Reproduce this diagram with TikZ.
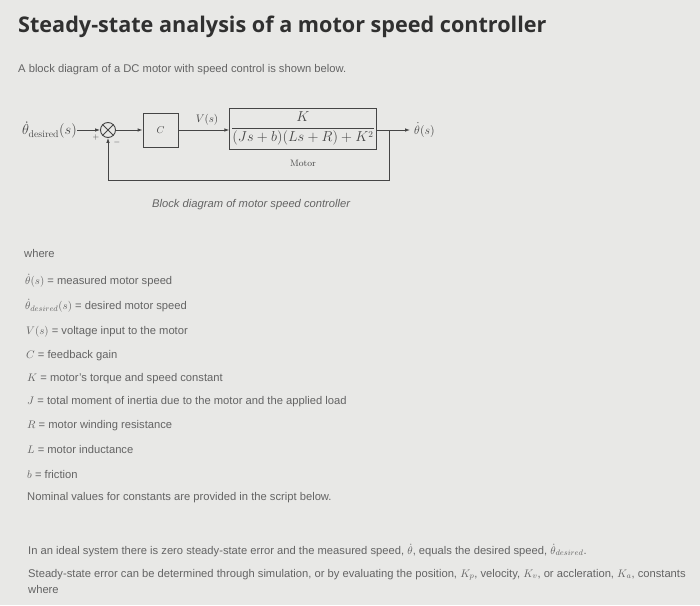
\documentclass[tikz,border=0pt]{standalone}
\usepackage{fontspec}
\setsansfont{Liberation Sans}
\newfontfamily\headfont{Open Sans}
\usepackage{amsmath}
\usetikzlibrary{arrows.meta}
\definecolor{pagebg}{HTML}{E8E8E6}
\definecolor{titleink}{HTML}{303030}
\definecolor{bodyink}{HTML}{646464}
\definecolor{wireink}{HTML}{454545}

\begin{document}
\begin{tikzpicture}[x=1pt, y=-1pt,
  txt/.style={anchor=base west, inner sep=0pt, text=bodyink, font=\sffamily\fontsize{11.2}{13}\selectfont},
  blk/.style={draw=wireink, line width=0.9pt, inner sep=0pt, text=wireink},
  sig/.style={draw=wireink, line width=0.9pt, -{Latex[length=5pt, width=3.6pt]}},
  lbl/.style={inner sep=0pt, text=wireink, font=\fontsize{13}{15}\selectfont}]
  % page
  \fill[pagebg] (0,0) rectangle (700,605);
  \useasboundingbox (0,0) rectangle (700,605);
  % heading
  \node[txt, text=titleink, font=\headfont\bfseries\fontsize{21.6}{25}\selectfont] (title) at (18,32) {Steady-state analysis of a motor speed controller};
  \node[txt] (intro) at (18,72) {A block diagram of a DC motor with speed control is shown below.};
  % block diagram
  \node[lbl, anchor=east, font=\fontsize{14}{16}\selectfont] (ref) at (77,130) {$\dot{\theta}_{\mathrm{desired}}(s)$};
  \node[blk, circle, minimum size=15pt] (sum) at (108,130) {};
  \draw[wireink, line width=0.9pt] (sum.north west) -- (sum.south east) (sum.north east) -- (sum.south west);
  \node[lbl, font=\fontsize{8}{9}\selectfont] (plus) at (96,137) {$+$};
  \node[lbl, font=\fontsize{8}{9}\selectfont] (minus) at (117,142) {$-$};
  \node[blk, minimum width=35pt, minimum height=34pt, font=\fontsize{10}{12}\selectfont] (ctrl) at (160.5,130) {$C$};
  \node[blk, minimum width=145pt, minimum height=41pt, inner xsep=1.5pt, font=\fontsize{13.3}{16}\selectfont] (motor) at (303,128.5) {$\dfrac{K}{(Js+b)(Ls+R)+K^2}$};
  \node[lbl, font=\fontsize{9.3}{11}\selectfont] (motorname) at (303,163) {Motor};
  \node[lbl, font=\fontsize{11}{13}\selectfont] (volt) at (207,120) {$V(s)$};
  \coordinate (tap) at (389,130);
  \coordinate (out) at (410,130);
  \node[lbl, anchor=west] (speed) at (414,130) {$\dot{\theta}(s)$};
  \draw[sig] (ref) -- (sum);
  \draw[sig] (sum) -- (ctrl);
  \draw[sig] (ctrl.east) -- (ctrl.east -| motor.west);
  \draw[sig] (motor.east |- tap) -- (out);
  % feedback path
  \draw[sig] (tap) -- ++(0,50) -| (sum.south);
  \node[txt, font=\sffamily\itshape\fontsize{11.2}{13}\selectfont] (caption) at (152,207) {Block diagram of motor speed controller};
  % definitions
  \node[txt] (where) at (24,257) {where};
  \node[txt] (defspeed) at (25,284) {$\dot{\theta}(s)$ = measured motor speed};
  \node[txt] (defref) at (25,309.5) {$\dot{\theta}_{desired}(s)$ = desired motor speed};
  \node[txt] (defvolt) at (26,334) {$V(s)$ = voltage input to the motor};
  \node[txt] (defgain) at (26,358.5) {$C$ = feedback gain};
  \node[txt] (defk) at (27,381) {$K$ = motor's torque and speed constant};
  \node[txt] (defj) at (27,404) {$J$ = total moment of inertia due to the motor and the applied load};
  \node[txt] (defr) at (27,428.5) {$R$ = motor winding resistance};
  \node[txt] (defl) at (27,453.5) {$L$ = motor inductance};
  \node[txt] (defb) at (27,478.5) {$b$ = friction};
  \node[txt] (nominal) at (27,500.5) {Nominal values for constants are provided in the script below.};
  % steady-state notes
  \node[txt] (ideal) at (28,554) {In an ideal system there is zero steady-state error and the measured speed, $\dot{\theta}$, equals the desired speed, $\dot{\theta}_{desired}$.};
  \node[txt] (errnote) at (28,577) {Steady-state error can be determined through simulation, or by evaluating the position, $K_p$, velocity, $K_v$, or accleration, $K_a$, constants};
  \node[txt] (where2) at (28,593) {where};
\end{tikzpicture}
\end{document}
